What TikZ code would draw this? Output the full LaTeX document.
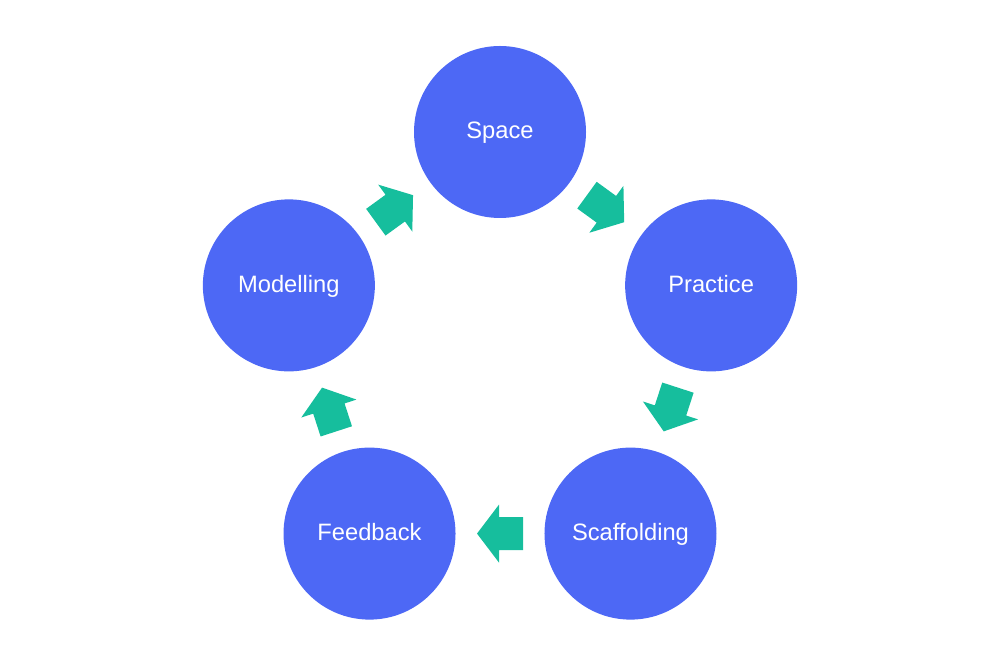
\documentclass[tikz,border=0pt]{standalone}
\usepackage{fontspec}
\setmainfont{Liberation Sans}
\usetikzlibrary{calc}
\definecolor{stageblue}{RGB}{77,104,245}
\definecolor{flowteal}{RGB}{22,190,157}
\tikzset{
  stage/.style={circle, fill=stageblue, draw=none, minimum size=172pt, inner sep=0pt,
    text=white, text height=20pt, text depth=6pt, font=\fontsize{23.7pt}{28pt}\selectfont},
  flow/.pic={\fill[flowteal] (-23,-16.5) -- (1,-16.5) -- (1,-29) -- (23,0) -- (1,29) -- (1,16.5) -- (-23,16.5) -- cycle;}
}
\begin{document}
\begin{tikzpicture}[x=1pt,y=1pt]
\useasboundingbox (0,0) rectangle (1000,666);
\coordinate (o) at (500,312);
\node[stage] (s) at ($(o)+(90:222)$) {Space};
\node[stage] (p) at ($(o)+(18:222)$) {Practice};
\node[stage] (c) at ($(o)+(-54:222)$) {Scaffolding};
\node[stage] (f) at ($(o)+(-126:222)$) {Feedback};
\node[stage] (m) at ($(o)+(162:222)$) {Modelling};
\pic[rotate=-36] at ($(s)!0.5!(p)$) {flow};
\pic[rotate=-108] at ($(p)!0.5!(c)$) {flow};
\pic[rotate=180] at ($(c)!0.5!(f)$) {flow};
\pic[rotate=108] at ($(f)!0.5!(m)$) {flow};
\pic[rotate=36] at ($(m)!0.5!(s)$) {flow};
\end{tikzpicture}
\end{document}
